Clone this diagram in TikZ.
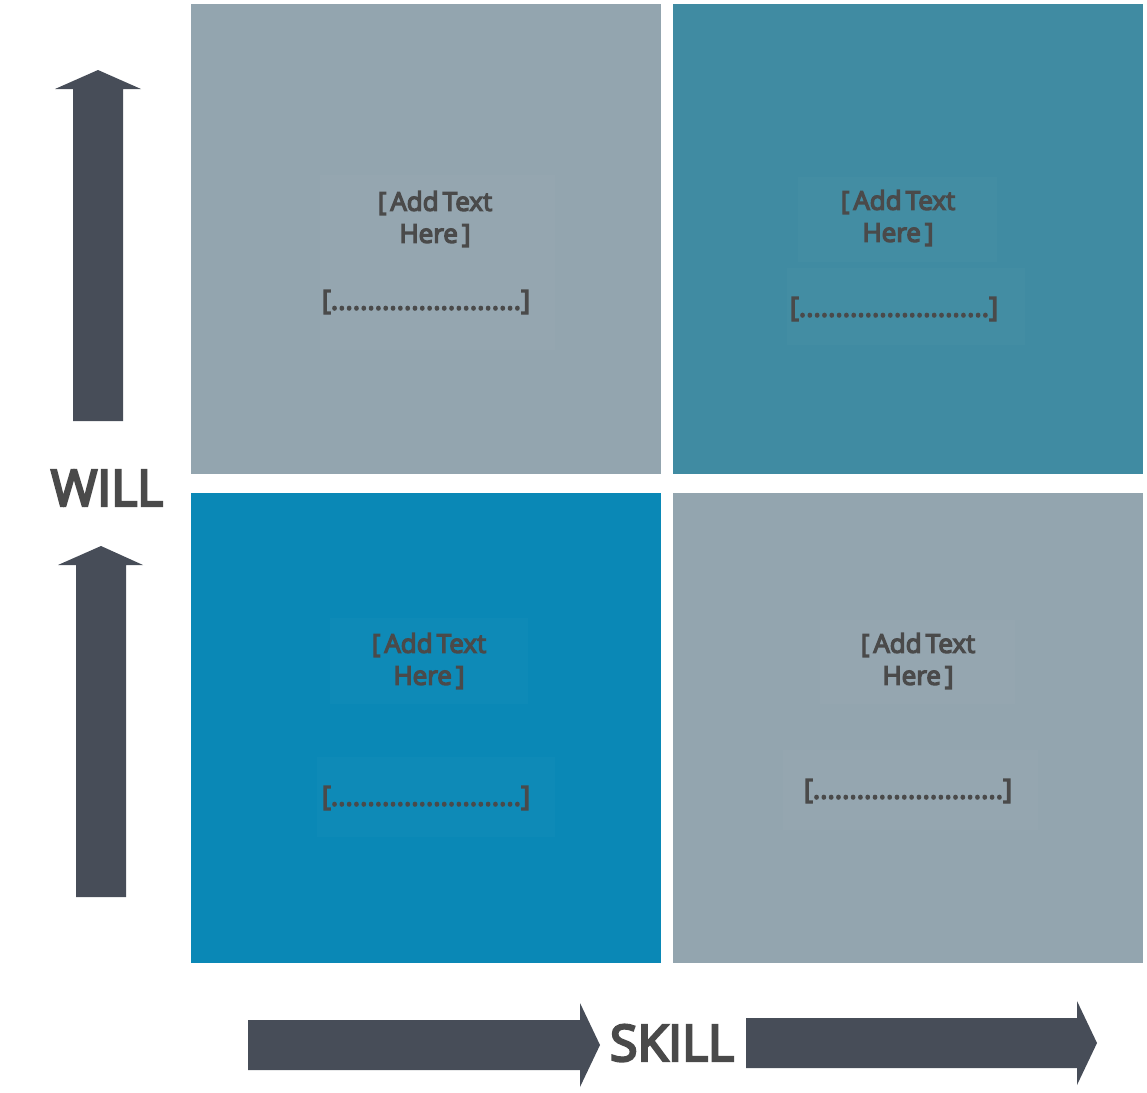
\documentclass[tikz,border=0pt]{standalone}
\usepackage{fontspec}
\setmainfont{Open Sans}
\newfontfamily\semifont{Open Sans}[FakeBold=5, WordSpace=0.6]
\usepackage{xcolor}
\usetikzlibrary{positioning, calc}

\definecolor{greyblue}{HTML}{93A5AF}
\definecolor{tealblue}{HTML}{408BA2}
\definecolor{oceanblue}{HTML}{0A88B6}
\definecolor{arrowgrey}{HTML}{474D58}
\definecolor{textgrey}{HTML}{4A4A4A}

\tikzset{
  softbox/.style={fill=white, fill opacity=0.02, draw=none},
  title/.style={text=textgrey, align=center, font=\semifont\fontsize{26}{32}\selectfont},
  dotline/.style={text=textgrey, font=\semifont\fontsize{27.5}{32}\selectfont},
  axislabel/.style={text=textgrey, font=\semifont\fontsize{50}{56}\selectfont},
}

\newcommand{\dotrow}{[..........................]}

\begin{document}
\begin{tikzpicture}[x=1pt,y=-1pt]
  \useasboundingbox (0,0) rectangle (1147,1092);

  % 1. Quadrants
  \fill[greyblue] (191,4) rectangle (661,474);
  \fill[tealblue] (673,4) rectangle (1143,474);
  \fill[oceanblue] (191,493) rectangle (661,963);
  \fill[greyblue] (673,493) rectangle (1143,963);

  % 2. Faint text boxes
  \fill[softbox] (320,175) rectangle (555,262);
  \fill[softbox] (320,262) rectangle (555,350);
  \fill[softbox] (798,177) rectangle (997,262);
  \fill[softbox] (787,268) rectangle (1025,345);
  \fill[softbox] (330,618) rectangle (528,704);
  \fill[softbox] (317,757) rectangle (555,837);
  \fill[softbox] (820,620) rectangle (1015,704);
  \fill[softbox] (783,750) rectangle (1038,830);

  % 3. Texts in quadrants
  \node[title] (tlTitle) at (435,219) {[ Add Text\\Here ]};
  \node[dotline] (tlDots) at (426,302) {\dotrow};
  \node[title] (trTitle) at (898,218) {[ Add Text\\Here ]};
  \node[dotline] (trDots) at (894,309) {\dotrow};
  \node[title] (blTitle) at (429,661) {[ Add Text\\Here ]};
  \node[dotline] (blDots) at (426,798) {\dotrow};
  \node[title] (brTitle) at (918,661) {[ Add Text\\Here ]};
  \node[dotline] (brDots) at (908,791) {\dotrow};

  % 4. WILL arrows
  \fill[arrowgrey] (73,421) -- (73,89) -- (55,89) -- (98,70) -- (141,89)
    -- (123,89) -- (123,421) -- cycle;
  \fill[arrowgrey] (76,897) -- (76,565) -- (58,565) -- (101,546) -- (143,565)
    -- (126,565) -- (126,897) -- cycle;
  \node[axislabel] (will) at (107,488) {WILL};

  % 5. SKILL arrows
  \fill[arrowgrey] (248,1020) -- (580,1020) -- (580,1003) -- (600,1045)
    -- (580,1087) -- (580,1070) -- (248,1070) -- cycle;
  \fill[arrowgrey] (746,1018) -- (1077,1018) -- (1077,1001) -- (1097,1043)
    -- (1077,1085) -- (1077,1068) -- (746,1068) -- cycle;
  \node[axislabel] (skill) at (672,1043) {SKILL};

\end{tikzpicture}
\end{document}
